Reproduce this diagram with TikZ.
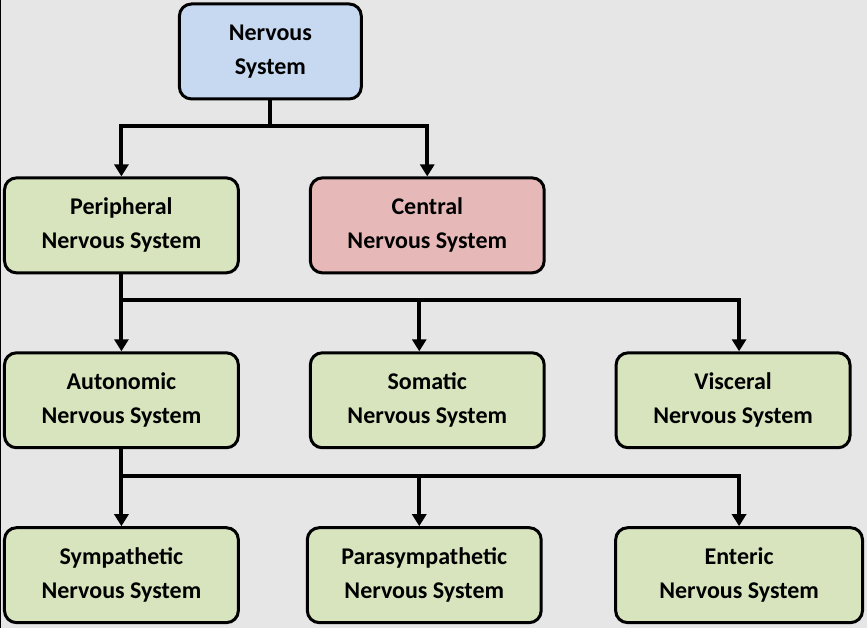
\documentclass[tikz,border=0pt]{standalone}
\usepackage{fontspec}
\setmainfont{Carlito}
\usetikzlibrary{arrows.meta}
\definecolor{bgcol}{HTML}{E6E6E6}
\definecolor{bluebox}{HTML}{C6D9F1}
\definecolor{greenbox}{HTML}{D7E4BD}
\definecolor{redbox}{HTML}{E6B9B8}
\tikzset{
  box/.style={draw, line width=3pt, rounded corners=12pt, fill=greenbox,
    minimum width=234pt, minimum height=95pt, align=center,
    font=\fontsize{24}{34}\selectfont\bfseries},
  link/.style={line width=4pt},
  arr/.style={line width=4pt, -{Triangle[width=14pt,length=12pt]}}
}
\begin{document}
\begin{tikzpicture}[x=1pt,y=-1pt]
    \fill[bgcol] (0,0) rectangle (867,628);
    \draw[line width=1pt] (0,0) -- (0,628);

    \node[box, fill=bluebox, minimum width=182pt] at (270,51) (NS) {Nervous\\System};
    \node[box] at (121,225) (PNS) {Peripheral\\Nervous System};
    \node[box, fill=redbox] at (427,225) (CNS) {Central\\Nervous System};
    \node[box] at (121,400) (ANS) {Autonomic\\Nervous System};
    \node[box] at (427,400) (SNS) {Somatic\\Nervous System};
    \node[box] at (733,400) (VNS) {Visceral\\Nervous System};
    \node[box] at (121,575) (SyNS) {Sympathetic\\Nervous System};
    \node[box] at (424,575) (PaNS) {Parasympathetic\\Nervous System};
    \node[box, minimum width=247pt] at (739,575) (ENS) {Enteric\\Nervous System};

    \coordinate (j1) at (270,126);
    \coordinate (j2) at (121,300);
    \coordinate (j3) at (121,476);

    \draw[link] (NS) -- (j1);
    \draw[arr] (j1) -| (PNS);
    \draw[arr] (j1) -| (CNS);

    \draw[link] (PNS) -- (j2);
    \draw[arr] (j2) -- (ANS);
    \draw[arr] (j2) -| (419,351);
    \draw[arr] (j2) -| (739,351);

    \draw[link] (ANS) -- (j3);
    \draw[arr] (j3) -- (SyNS);
    \draw[arr] (j3) -| (419,526);
    \draw[arr] (j3) -| (739,526);
\end{tikzpicture}
\end{document}
